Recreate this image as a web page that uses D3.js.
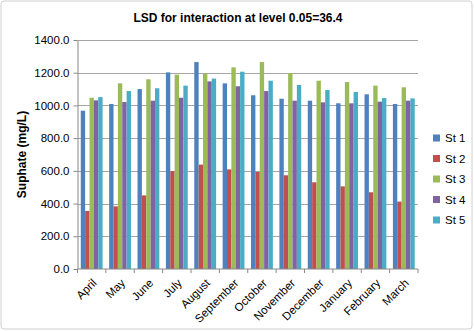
<!DOCTYPE html>
<html><head><meta charset="utf-8">
<script src="https://cdn.jsdelivr.net/npm/d3@7"></script>
<style>body{margin:0;background:#fff}svg{display:block}</style>
</head><body>
<svg id="c" width="474" height="331"></svg>
<script>
const categories = ["April","May","June","July","August","September","October","November","December","January","February","March"];
const seriesNames = ["St 1","St 2","St 3","St 4","St 5"];
const st1 = [968,1009,1100,1202,1265,1135,1062,1041,1029,1013,1068,1009];
const st2 = [355,383,450,599,638,609,593,573,530,505,469,412];
const st3 = [1047,1135,1160,1188,1194,1233,1265,1198,1151,1143,1121,1111];
const st4 = [1031,1021,1029,1047,1147,1117,1088,1029,1019,1013,1023,1029];
const st5 = [1051,1088,1105,1121,1164,1206,1151,1125,1094,1082,1045,1043];
const yTicks = [0,200,400,600,800,1000,1200,1400];
const colors = ["#4F81BD","#C0504D","#9BBB59","#8064A2","#4BACC6"];
const title = "LSD for interaction at level 0.05=36.4";
const yTitle = "Suphate (mg/L)";

(function(){
const series = [st1,st2,st3,st4,st5];
const font = "'Liberation Sans', Arial, sans-serif";
const svg = d3.select("#c");
svg.append("rect").attr("x",1).attr("y",1).attr("width",471).attr("height",328)
  .attr("rx",3).attr("fill","#fff").attr("stroke","#d0d0d0");

const pL = 77.5, pR = 418, pT = 40, pB = 269;
const x0 = d3.scaleBand().domain(categories).range([pL,pR]).paddingInner(0).paddingOuter(0);
const bw = x0.bandwidth()/6.5;
const x1 = d3.scaleBand().domain(seriesNames).range([0, bw*5]);
const off = (x0.bandwidth() - bw*5)/2;
const y = d3.scaleLinear().domain([0,1400]).range([pB, pT]);

svg.append("g").selectAll("line").data(yTicks.filter(d=>d>0)).join("line")
  .attr("x1",pL).attr("x2",pR).attr("y1",d=>Math.round(y(d))+0.5).attr("y2",d=>Math.round(y(d))+0.5)
  .attr("stroke","#a6a6a6").attr("stroke-width",1);

const g = svg.append("g");
categories.forEach((c,i)=>{
  series.forEach((s,j)=>{
    g.append("rect").attr("x", x0(c)+off+x1(seriesNames[j])).attr("width", x1.bandwidth())
      .attr("y", y(s[i])).attr("height", y(0)-y(s[i])).attr("fill", colors[j]);
  });
});

const ya = svg.append("g").attr("transform",`translate(${pL},0)`)
  .call(d3.axisLeft(y).tickValues(yTicks).tickFormat(d3.format(".1f")).tickSize(4).tickSizeOuter(0).tickPadding(4));
ya.select(".domain").attr("stroke","#888");
ya.selectAll(".tick line").attr("stroke","#888");
ya.selectAll("text").attr("font-family",font).attr("font-size","11.5px").attr("fill","#000");

const xa = svg.append("g").attr("transform",`translate(0,${pB})`);
xa.append("line").attr("x1",pL).attr("x2",pR).attr("y1",0).attr("y2",0).attr("stroke","#888");
const bounds = categories.map(c=>x0(c)).concat([pR]);
xa.selectAll("line.t").data(bounds).join("line").attr("class","t")
  .attr("x1",d=>d).attr("x2",d=>d).attr("y1",0).attr("y2",4).attr("stroke","#888");
xa.selectAll("text").data(categories).join("text")
  .attr("transform",d=>`translate(${x0(d)+x0.bandwidth()/2},9) rotate(-45)`)
  .attr("text-anchor","end").attr("dy","0.7em")
  .attr("font-family",font).attr("font-size","11.5px").attr("fill","#000").text(d=>d);

svg.append("text").attr("x",238).attr("y",22).attr("text-anchor","middle")
  .attr("font-family",font).attr("font-weight","bold").attr("font-size","12px").text(title);
svg.append("text").attr("transform",`translate(26,${(pT+pB)/2}) rotate(-90)`).attr("text-anchor","middle")
  .attr("font-family",font).attr("font-weight","bold").attr("font-size","12px").text(yTitle);

const lg = svg.append("g");
seriesNames.forEach((n,j)=>{
  const yy = 138 + j*20.5;
  lg.append("rect").attr("x",433).attr("y",yy-3.5).attr("width",7).attr("height",7).attr("fill",colors[j]);
  lg.append("text").attr("x",445).attr("y",yy).attr("dy","0.35em")
    .attr("font-family",font).attr("font-size","11.5px").text(n);
});
})();
</script>
</body></html>
